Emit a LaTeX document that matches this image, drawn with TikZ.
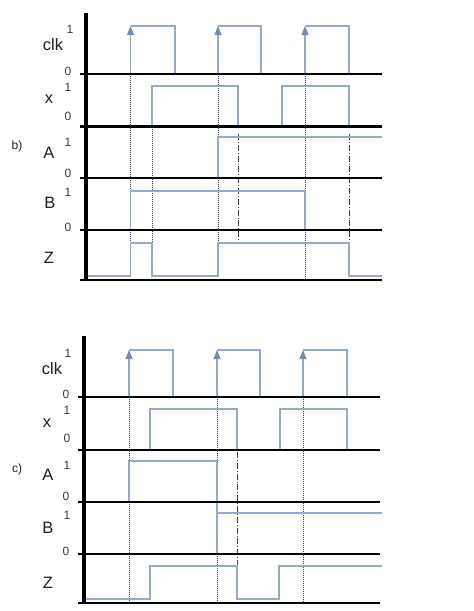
\documentclass[tikz,border=0pt]{standalone}
\usepackage{fontspec}
\setmainfont{Liberation Sans}
\usetikzlibrary{arrows.meta}
\definecolor{wavec}{RGB}{150,168,205}
\definecolor{arrc}{RGB}{112,140,188}
\definecolor{txtc}{RGB}{30,30,30}
\definecolor{numc}{RGB}{60,60,60}
\tikzset{
  axisline/.style={line width=2.6pt, black},
  vaxis/.style={line width=3.4pt, black},
  wave/.style={line width=1.1pt, wavec, line join=miter},
  clkedge/.style={line width=1.1pt, wavec, -{Triangle[width=7pt,length=9pt,fill=arrc,color=arrc]}},
  dotl/.style={line width=0.6pt, black!75, dash pattern=on 1pt off 1pt},
  dashl/.style={line width=0.8pt, black!75, dash pattern=on 6pt off 2pt on 0.8pt off 2pt},
  sig/.style={font=\fontsize{16.5}{16.5}\selectfont, text=txtc, inner sep=0pt},
  lvl/.style={font=\fontsize{12}{12}\selectfont, text=numc, inner sep=0pt},
  part/.style={font=\fontsize{12}{12}\selectfont, text=txtc, inner sep=0pt}
}
\begin{document}
\begin{tikzpicture}[x=1pt,y=-1pt]
\useasboundingbox (0,0) rectangle (474,611);
% ================= panel b =================
% dotted guides
\draw[dotl] (130.5,74) -- (130.5,191);
\draw[dotl] (130.5,230) -- (130.5,243);
\draw[dotl] (152,126.5) -- (152,243);
\draw[dotl] (218,74) -- (218,137);
\draw[dotl] (218,178) -- (218,243);
\draw[dotl] (305,74) -- (305,191);
\draw[dotl] (305,230) -- (305,280);
% dashed markers
\draw[dashl] (238,134) -- (238,240);
\draw[dashl] (349,134) -- (349,243);
% clk
\foreach \r/\f in {130.5/175,218/261,305/349}{
  \draw[clkedge] (\r,74) -- (\r,26);
  \draw[wave] (\r,26) -- (\f,26) -- (\f,74);
}
% x
\draw[wave] (152,126.5) -- (152,86) -- (238,86) -- (238,126.5);
\draw[wave] (282,126.5) -- (282,86) -- (349,86) -- (349,126.5);
% A
\draw[wave] (218,178) -- (218,137) -- (382,137);
% B
\draw[wave] (130.5,230) -- (130.5,191) -- (305,191) -- (305,230);
% Z
\draw[wave] (88,276) -- (130.5,276) -- (130.5,243) -- (152,243) -- (152,276) -- (218,276) -- (218,243) -- (349,243) -- (349,276) -- (382,276);
% axes
\foreach \y in {74,126.5,178,230,280}{\draw[axisline] (80,\y) -- (382,\y);}
\draw[vaxis] (86,13) -- (86,281.3);
% labels
\node[part] (pb) at (17,146) {b)};
\node[sig] (lbclk) at (53,45) {clk};
\node[lvl] (lbclk1) at (70,29) {1};
\node[lvl] (lbclk0) at (68,71) {0};
\node[sig] (lbx) at (49,99) {x};
\node[lvl] (lbx1) at (68,87) {1};
\node[lvl] (lbx0) at (68,116) {0};
\node[sig] (lbA) at (49,153) {A};
\node[lvl] (lbA1) at (68,142) {1};
\node[lvl] (lbA0) at (68,173) {0};
\node[sig] (lbB) at (50,203) {B};
\node[lvl] (lbB1) at (68,192) {1};
\node[lvl] (lbB0) at (68,227) {0};
\node[sig] (lbZ) at (49,258) {Z};
% ================= panel c =================
% dotted guides
\draw[dotl] (129,397) -- (129,461);
\draw[dotl] (129,502) -- (129,603);
\draw[dotl] (217,397) -- (217,461);
\draw[dotl] (217,554) -- (217,603);
\draw[dotl] (303,397) -- (303,603);
% dashed marker
\draw[dashl] (237,452) -- (237,566);
% clk
\foreach \r/\f in {129/173,217/260,303/347}{
  \draw[clkedge] (\r,397) -- (\r,350);
  \draw[wave] (\r,350) -- (\f,350) -- (\f,397);
}
% x
\draw[wave] (150,450) -- (150,409) -- (237,409) -- (237,450);
\draw[wave] (280,450) -- (280,409) -- (347,409) -- (347,450);
% A
\draw[wave] (129,502) -- (129,461) -- (217,461) -- (217,554);
% B
\draw[wave] (217,513) -- (382,513);
% Z
\draw[wave] (86,599) -- (150,599) -- (150,566) -- (237,566) -- (237,599) -- (279,599) -- (279,566) -- (382,566);
% axes
\foreach \y in {397,450,502,554,603}{\draw[axisline] (78,\y) -- (380,\y);}
\draw[vaxis] (84,336) -- (84,604.3);
% labels
\node[part] (pc) at (17,469) {c)};
\node[sig] (lcclk) at (52,369) {clk};
\node[lvl] (lcclk1) at (68,353) {1};
\node[lvl] (lcclk0) at (66,394) {0};
\node[sig] (lcx) at (47,423) {x};
\node[lvl] (lcx1) at (67,410) {1};
\node[lvl] (lcx0) at (67,438) {0};
\node[sig] (lcA) at (48,475) {A};
\node[lvl] (lcA1) at (67,465) {1};
\node[lvl] (lcA0) at (66,496) {0};
\node[sig] (lcB) at (48,528) {B};
\node[lvl] (lcB1) at (67,515) {1};
\node[lvl] (lcB0) at (66,551) {0};
\node[sig] (lcZ) at (48,583) {Z};
\end{tikzpicture}
\end{document}
